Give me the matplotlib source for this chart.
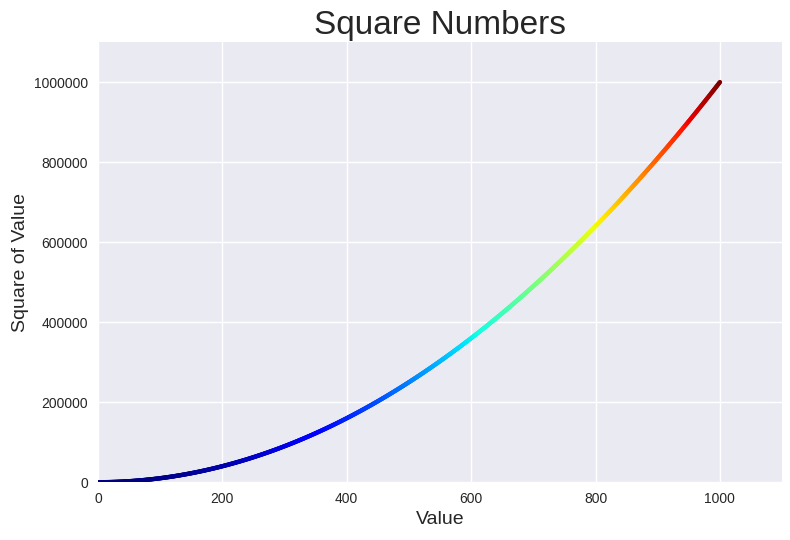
import matplotlib
matplotlib.use("Agg")
import matplotlib.pyplot as plt

x_values = list(range(1, 1001))
y_values = [x ** 2 for x in x_values]

plt.style.use('seaborn-v0_8')
fig, ax = plt.subplots(figsize=(7.9, 5.4), dpi=100)
fig.subplots_adjust(left=0.124, right=0.99, top=0.922, bottom=0.107)

ax.scatter(x_values, y_values, c=y_values, cmap=plt.cm.jet, s=10, edgecolors='none')

ax.set_title("Square Numbers", fontsize=24)
ax.set_xlabel("Value", fontsize=14)
ax.set_ylabel("Square of Value", fontsize=14)
ax.tick_params(axis='both', which='major', labelsize=10)
ax.ticklabel_format(style='plain')
ax.axis([0, 1100, 0, 1100000])

fig.savefig("out.png", dpi=100)
